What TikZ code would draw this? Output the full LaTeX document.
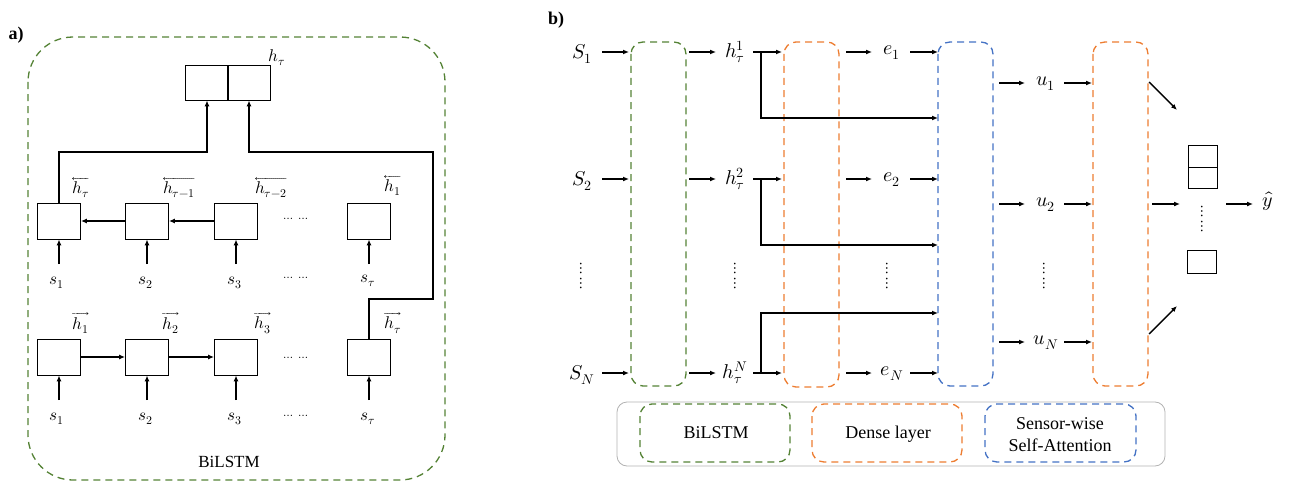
\documentclass[tikz,border=0pt]{standalone}
\usepackage{unicode-math}
\setmainfont{Liberation Serif}
\setmathfont{Latin Modern Math}
\usetikzlibrary{arrows.meta}
\definecolor{gr}{RGB}{84,130,53}
\definecolor{orr}{RGB}{237,125,49}
\definecolor{bl}{RGB}{68,114,196}
\begin{document}
\begin{tikzpicture}[x=1pt,y=-1pt,
  ar/.style={line width=1.4pt,-{Latex[length=6pt,width=5pt]}},
  cell/.style={draw,line width=0.9pt,minimum width=43pt,minimum height=36pt,inner sep=0pt},
  dbox/.style={draw,line width=1.3pt,dash pattern=on 7pt off 5pt,rounded corners=12pt},
  lab/.style={font=\fontsize{20}{22}\selectfont,inner sep=1pt},
  slab/.style={font=\fontsize{17}{20}\selectfont,inner sep=1pt},
  dots/.style={font=\fontsize{12}{13}\selectfont,inner sep=0pt},
  vd/.style={font=\fontsize{16}{15}\selectfont,inner sep=0pt,align=center}]
\useasboundingbox (0,0) rectangle (1304,495);
% ---------- panel a
\node[font=\bfseries\fontsize{18}{21}\selectfont] (pa) at (16,35) {a)};
\draw[gr,dbox,rounded corners=45pt] (28,37) rectangle (445,480);
\node[font=\fontsize{17}{20}\selectfont] (bil) at (229,462) {BiLSTM};
\node[cell,minimum width=42pt,minimum height=35pt] (tl) at (206.5,82.5) {};
\node[cell,minimum width=42pt,minimum height=35pt] (tr) at (249,82.5) {};
\node[slab] (ht) at (277,58) {$h_\tau$};
\foreach \i/\x in {1/59,2/147,3/236,4/369}{
  \node[cell] (b\i) at (\x,221) {};
  \node[cell] (f\i) at (\x,357) {};
  \coordinate (bi\i) at (\x,264);
  \coordinate (fi\i) at (\x,400);
  \draw[ar] (bi\i) -- (b\i.south);
  \draw[ar] (fi\i) -- (f\i.south);
}
\draw[ar] (b3) -- (b2);
\draw[ar] (b2) -- (b1);
\draw[ar] (f1) -- (f2);
\draw[ar] (f2) -- (f3);
\foreach \i/\x/\t in {1/57/1,2/146/2,3/235/3}{
  \node[slab] (sb\i) at (\x,283) {$s_\t$};
  \node[slab] (sf\i) at (\x,419) {$s_\t$};
}
\node[slab] (sb4) at (368,281) {$s_\tau$};
\node[slab] (sf4) at (368,419) {$s_\tau$};
\foreach \y/\n in {219/d1,278/d2,358/d3,416/d4}{\node[dots] (\n) at (297,\y) {$\dots\;\dots$};}
\node[slab] (lb1) at (81,188) {$\overleftarrow{h_\tau}$};
\node[slab] (lb2) at (179,188) {$\overleftarrow{h_{\tau-1}}$};
\node[slab] (lb3) at (271,188) {$\overleftarrow{h_{\tau-2}}$};
\node[slab] (lb4) at (393,186) {$\overleftarrow{h_1}$};
\node[slab] (lf1) at (81,323) {$\overrightarrow{h_1}$};
\node[slab] (lf2) at (171,323) {$\overrightarrow{h_2}$};
\node[slab] (lf3) at (263,323) {$\overrightarrow{h_3}$};
\node[slab] (lf4) at (393,323) {$\overrightarrow{h_\tau}$};
\draw[ar] (b1.north) |- (207,152) -- (tl.south -| 207,0);
\draw[ar] (f4.north) |- (433,299) |- (249,152) -- (tr.south);
% ---------- panel b
\node[font=\bfseries\fontsize{18}{21}\selectfont] (pb) at (556,20) {b)};
\draw[gr,dbox] (631,42) rectangle (686,386);
\draw[orr,dbox] (784,42) rectangle (839,387);
\draw[bl,dbox] (938,42) rectangle (993,386);
\draw[orr,dbox] (1093,42) rectangle (1148,386);
\foreach \i/\y/\t in {1/52/1,2/179/2,3/373/N}{
  \node[lab] (S\i) at (582,\y+2) {$S_\t$};
  \coordinate (g\i) at (629,\y);
  \draw[ar] (602,\y) -- (g\i);
  \node[lab] (h\i) at (735,\y) {$h_\tau^\t$};
  \coordinate (go\i) at (689,\y);
  \draw[ar] (go\i) -- (716,\y);
  \coordinate (oi\i) at (782,\y);
  \draw[ar] (753,\y) -- (oi\i);
  \node[lab] (e\i) at (892,\y+1) {$e_\t$};
  \coordinate (oo\i) at (846,\y);
  \draw[ar] (oo\i) -- (872,\y);
  \coordinate (bi\i) at (938,\y);
  \draw[ar] (910,\y) -- (bi\i);
}
\coordinate (br1) at (938,118);
\coordinate (br2) at (938,245);
\coordinate (br3) at (938,313);
\draw[ar] (761,52) |- (br1);
\draw[ar] (761,179) |- (br2);
\draw[ar] (761,373) |- (br3);
\foreach \i/\y/\t in {1/83/1,2/204/2,3/342/N}{
  \node[lab] (u\i) at (1046,\y+1) {$u_\t$};
  \coordinate (bo\i) at (999,\y);
  \draw[ar] (bo\i) -- (1025,\y);
  \coordinate (o2\i) at (1092,\y);
  \draw[ar] (1064,\y) -- (o2\i);
}
\foreach \x/\n in {581/v1,735/v2,887/v3,1044/v4}{\node[vd] (\n) at (\x,276) {$\vdots$\\$\vdots$};}
\node[draw,line width=0.9pt,minimum width=29pt,minimum height=22pt,inner sep=0pt] (y1) at (1202.5,156) {};
\node[draw,line width=0.9pt,minimum width=29pt,minimum height=21pt,inner sep=0pt] (y2) at (1202.5,177.5) {};
\node[vd] (yd) at (1202,219) {$\vdots$\\$\vdots$};
\node[draw,line width=0.9pt,minimum width=29pt,minimum height=23pt,inner sep=0pt] (y3) at (1201.5,261.5) {};
\coordinate (a1) at (1149,82); \coordinate (a1e) at (1177,110);
\coordinate (a2) at (1152,204); \coordinate (a2e) at (1180,204);
\coordinate (a3) at (1149,334); \coordinate (a3e) at (1177,306);
\draw[ar] (a1) -- (a1e);
\draw[ar] (a2) -- (a2e);
\draw[ar] (a3) -- (a3e);
\node[lab] (yh) at (1268,201) {$\hat{y}$};
\coordinate (ys) at (1226,204);
\draw[ar] (ys) -- (1253,204);
% legend
\draw[gray!60,line width=0.8pt,rounded corners=10pt] (617,402) rectangle (1165,466);
\draw[gr,dbox] (640,404) rectangle (790,462);
\draw[orr,dbox] (812,404) rectangle (962,462);
\draw[bl,dbox] (985,404) rectangle (1136,462);
\node[font=\fontsize{18}{20}\selectfont] (L1) at (716,433) {BiLSTM};
\node[font=\fontsize{18}{20}\selectfont] (L2) at (888,434) {Dense layer};
\node[font=\fontsize{18}{22}\selectfont,align=center] (L3) at (1060,435) {Sensor-wise\\Self-Attention};
\end{tikzpicture}
\end{document}
